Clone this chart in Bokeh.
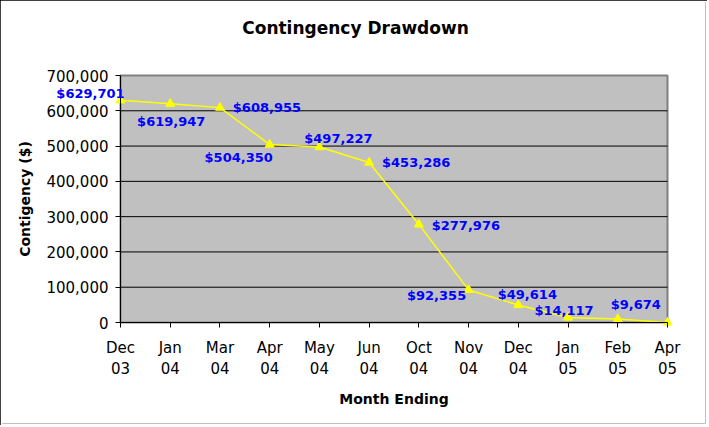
from bokeh.plotting import figure
from bokeh.models import ColumnDataSource, Label, FixedTicker, NumeralTickFormatter, Range1d
from bokeh.embed import file_html
from bokeh.resources import INLINE

title_text = "Contingency Drawdown"
months = ["Dec\n03", "Jan\n04", "Mar\n04", "Apr\n04", "May\n04", "Jun\n04",
          "Oct\n04", "Nov\n04", "Dec\n04", "Jan\n05", "Feb\n05", "Apr\n05"]
contingency = [629701, 619947, 608955, 504350, 497227, 453286,
               277976, 92355, 49614, 14117, 9674, 0]
labels = ["$629,701", "$619,947", "$608,955", "$504,350", "$497,227", "$453,286",
          "$277,976", "$92,355", "$49,614", "$14,117", "$9,674", ""]
y_ticks = [0, 100000, 200000, 300000, 400000, 500000, 600000, 700000]

# label placement offsets (pixels, y up) - style only
label_dx = [-30, 1, 47, -31, 19, 47, 47, -32, 9, -4, 18, 0]
label_dy = [7, -18, 0, -13, 9, 0, -1, -6, 10, 7, 15, 0]

idx = list(range(len(months)))
src = ColumnDataSource(dict(x=idx, y=contingency))

# ---- layout (pixels) ----
W, H = 707, 425
PLOT_L, PLOT_R, PLOT_T, PLOT_B = 120, 667, 75, 322   # gray plot area
FL, FR, FT, FB = 2, W - 2, 2, H - 2                   # drawing frame covers the canvas (no clipping of labels)
TITLE_X, TITLE_Y = 355, 27                            # title centre (pixels)
x_lo, x_hi = idx[0], idx[-1]
y_lo, y_hi = y_ticks[0], y_ticks[-1]
ux = (x_hi - x_lo) / (PLOT_R - PLOT_L)
uy = (y_hi - y_lo) / (PLOT_B - PLOT_T)

p = figure(width=W, height=H, output_backend="svg", toolbar_location=None,
           x_range=Range1d(x_lo - (PLOT_L - FL) * ux, x_hi + (FR - PLOT_R) * ux),
           y_range=Range1d(y_lo - (FB - PLOT_B) * uy, y_hi + (PLOT_T - FT) * uy),
           min_border_left=FL, min_border_right=W - FR, min_border_top=FT,
           min_border_bottom=H - FB)
p.styles = {"outline": "2px solid black", "outline-offset": "-2px"}

p.background_fill_color = "white"
p.border_fill_color = "white"
p.outline_line_color = None
p.xgrid.grid_line_color = None
p.ygrid.grid_line_color = None

# gray plot area with gray border, and horizontal gridlines
p.quad(left=[x_lo], right=[x_hi], bottom=[y_lo], top=[y_hi],
       fill_color="#C0C0C0", line_color="#808080", line_width=2)
inner = y_ticks[1:-1]
p.segment(x0=[x_lo] * len(inner), x1=[x_hi] * len(inner), y0=inner, y1=inner,
          line_color="black", line_width=1)

p.yaxis.ticker = FixedTicker(ticks=y_ticks)
p.yaxis.formatter = NumeralTickFormatter(format="0,0")
p.yaxis.fixed_location = x_lo
p.yaxis.bounds = (y_lo, y_hi)
p.xaxis.ticker = FixedTicker(ticks=idx)
p.xaxis.major_label_overrides = {i: m for i, m in zip(idx, months)}
p.xaxis.fixed_location = y_lo
p.xaxis.bounds = (x_lo, x_hi)

for ax in (p.xaxis, p.yaxis):
    ax.axis_line_color = "black"
    ax.axis_line_width = 1
    ax.major_tick_line_color = "black"
    ax.major_tick_out = 5
    ax.major_tick_in = 0
    ax.minor_tick_line_color = None
    ax.major_label_text_font = "DejaVu Sans"
    ax.major_label_text_font_size = "15px"
    ax.major_label_text_color = "black"
    ax.axis_label_text_font = "DejaVu Sans"
    ax.axis_label_text_font_size = "14px"
    ax.axis_label_text_font_style = "bold"
    ax.axis_label_text_color = "black"

p.yaxis.axis_label = "Contigency ($)"
p.yaxis.major_label_standoff = 7
p.yaxis.axis_label_standoff = 10
p.xaxis.axis_label = "Month Ending"
p.xaxis.major_label_standoff = 11
p.xaxis.axis_label_standoff = 10

p.line("x", "y", source=src, line_color="#FFFF00", line_width=1.5)
p.scatter("x", "y", source=src, marker="triangle", size=9,
          fill_color="#FFFF00", line_color="#FFFF00")

for xi, yi, txt, dx, dy in zip(idx, contingency, labels, label_dx, label_dy):
    if not txt:
        continue
    p.add_layout(Label(x=xi, y=yi, text=txt, x_offset=dx, y_offset=dy,
                       text_align="center", text_baseline="middle",
                       text_font="DejaVu Sans", text_font_size="13px",
                       text_font_style="bold", text_color="#0000FF"))

# chart title
p.add_layout(Label(x=x_lo + (TITLE_X - PLOT_L) * ux, y=y_hi + (PLOT_T - TITLE_Y) * uy,
                   text=title_text, text_align="center", text_baseline="middle",
                   text_font="DejaVu Sans", text_font_size="17px",
                   text_font_style="bold", text_color="black"))

open("out.html", "w").write(file_html(p, INLINE))
